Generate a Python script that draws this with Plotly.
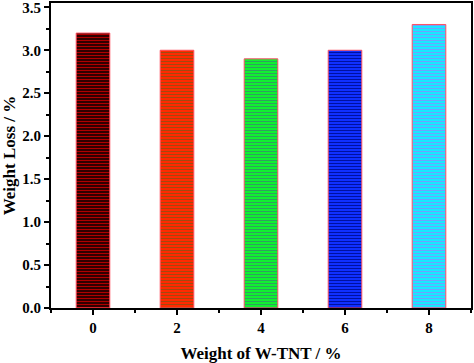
import plotly.graph_objects as go

categories = [0, 2, 4, 6, 8]
weight_loss = [3.2, 3.0, 2.9, 3.0, 3.3]
bg_colors = ["#300000", "#ff2a00", "#10f030", "#1030ff", "#18e8ff"]
fg_colors = ["#b00000", "#a04a10", "#30a060", "#0010a0", "#70a0ff"]
tick_labels = ["0", "2", "4", "6", "8"]

font = dict(family="Liberation Serif", size=15, color="black")

fig = go.Figure()
for x, y, bg, fg in zip(categories, weight_loss, bg_colors, fg_colors):
    fig.add_trace(go.Bar(
        x=[x], y=[y], width=0.8,
        marker=dict(
            color=bg,
            line=dict(color="#ff5060", width=1),
            pattern=dict(shape="-", fgcolor=fg, bgcolor=bg,
                         size=3, solidity=0.33, fillmode="overlay", fgopacity=1),
        ),
    ))

fig.update_layout(
    template="none",
    barmode="overlay",
    width=474, height=363,
    margin=dict(l=51, r=3, t=3, b=55),
    plot_bgcolor="white", paper_bgcolor="white",
    showlegend=False,
    font=font,
)
fig.update_xaxes(
    automargin=False,
    range=[-1, 9], tickvals=categories, ticktext=[f"<b>{t}</b>" for t in tick_labels],
    ticks="outside", ticklen=5, tickwidth=1.5, tickcolor="black",
    minor=dict(tickvals=[-1, 1, 3, 5, 7, 9], ticks="outside", ticklen=3, tickcolor="black"),
    showline=True, linecolor="black", linewidth=2, mirror=True,
    showgrid=False, zeroline=False,
    title=dict(text="<b>Weight of W-TNT / %</b>", font=dict(size=17), standoff=12),
)
fig.update_yaxes(
    automargin=False,
    range=[0, 3.55], tickvals=[0, 0.5, 1, 1.5, 2, 2.5, 3, 3.5],
    ticktext=["<b>%.1f</b>" % v for v in [0, 0.5, 1, 1.5, 2, 2.5, 3, 3.5]],
    ticklabeloverflow="allow",
    ticks="outside", ticklen=5, tickwidth=1.5, tickcolor="black",
    minor=dict(dtick=0.25, ticks="outside", ticklen=3, tickcolor="black"),
    showline=True, linecolor="black", linewidth=2, mirror=True,
    showgrid=False, zeroline=False,
    title=dict(text="<b>Weight Loss / %</b>", font=dict(size=17), standoff=6),
)

fig.write_html("out.html", config={"displayModeBar": False},
               post_script="document.body.style.margin='0';document.body.style.overflow='hidden';")
